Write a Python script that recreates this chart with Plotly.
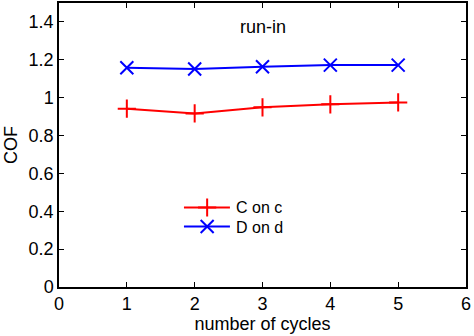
import plotly.graph_objects as go

cycles = [1, 2, 3, 4, 5]
c_on_c = [0.942, 0.917, 0.949, 0.965, 0.975]
d_on_d = [1.158, 1.151, 1.163, 1.172, 1.172]
series_names = ["C on c", "D on d"]
series_colors = ["#ff0000", "#0000ff"]
series_symbols = ["cross-thin", "x-thin"]
x_ticks = [0, 1, 2, 3, 4, 5, 6]
y_ticks = [0, 0.2, 0.4, 0.6, 0.8, 1.0, 1.2, 1.4]
y_tick_text = ["0", "0.2", "0.4", "0.6", "0.8", "1", "1.2", "1.4"]

FONT = "Liberation Sans, Arial, Helvetica, sans-serif"
FS = 18

fig = go.Figure()
for ys, name, col, sym in zip([c_on_c, d_on_d], series_names, series_colors, series_symbols):
    fig.add_trace(go.Scatter(
        x=cycles, y=ys, name=name, mode="lines+markers", showlegend=False,
        line=dict(color=col, width=2),
        marker=dict(symbol=sym, size=13, line=dict(color=col, width=2)),
    ))

# compact legend drawn in an overlay axis (paper-like 0..1 space)
leg_y = [0.280, 0.213]
for name, col, sym, ly in zip(series_names, series_colors, series_symbols, leg_y):
    fig.add_trace(go.Scatter(
        x=[0.307, 0.364, 0.420], y=[ly, ly, ly], xaxis="x2", yaxis="y2",
        mode="lines", showlegend=False, hoverinfo="skip",
        line=dict(color=col, width=2),
    ))
    fig.add_trace(go.Scatter(
        x=[0.364], y=[ly], xaxis="x2", yaxis="y2",
        mode="markers", showlegend=False, hoverinfo="skip",
        marker=dict(symbol=sym, size=13, line=dict(color=col, width=2)),
    ))
    fig.add_annotation(x=0.432, y=ly, xref="paper", yref="paper", text=name,
                       showarrow=False, xanchor="left", yanchor="middle",
                       height=16, valign="middle", borderpad=0,
                       font=dict(family=FONT, size=16, color="black"))

axis_common = dict(
    showgrid=False, zeroline=False, showline=True, linecolor="black", linewidth=1.5,
    mirror="allticks", ticks="inside", ticklen=5, tickcolor="black", tickwidth=1,
    tickfont=dict(family=FONT, size=FS, color="black"),
)
fig.update_xaxes(range=[0, 6], tickvals=x_ticks,
                 title=dict(text="number of cycles", font=dict(family=FONT, size=FS, color="black"), standoff=0),
                 **axis_common)
fig.update_yaxes(range=[0, 1.5], tickvals=y_ticks, ticktext=y_tick_text,
                 title=dict(text="COF", font=dict(family=FONT, size=FS, color="black"), standoff=6),
                 **axis_common)

fig.add_annotation(x=3, y=1.374, text="run-in", showarrow=False,
                   font=dict(family=FONT, size=FS, color="black"))

fig.update_layout(
    width=474, height=336,
    margin=dict(l=59, r=8, t=1, b=49),
    paper_bgcolor="white", plot_bgcolor="white",
    showlegend=False,
    xaxis2=dict(domain=[0, 1], range=[0, 1], overlaying="x", anchor="y2", visible=False, fixedrange=True),
    yaxis2=dict(domain=[0, 1], range=[0, 1], overlaying="y", anchor="x2", visible=False, fixedrange=True),
)

fig.write_html("out.html")
